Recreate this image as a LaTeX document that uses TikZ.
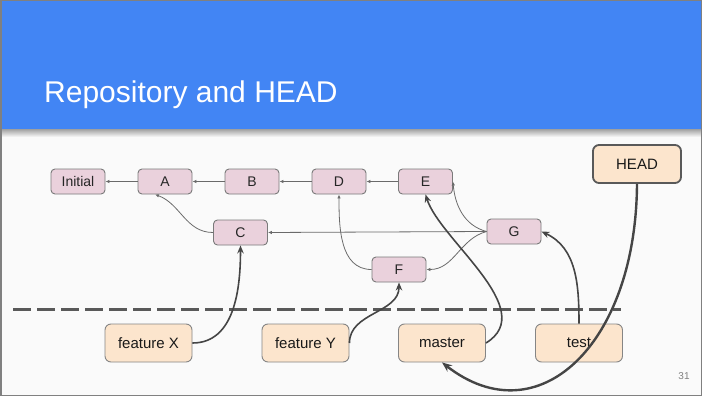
\documentclass[tikz,border=0pt]{standalone}
\usepackage{fontspec}
\setmainfont{Liberation Sans}
\usetikzlibrary{arrows.meta}
\definecolor{gblue}{HTML}{4285F4}
\definecolor{bgc}{HTML}{FAFAFA}
\definecolor{framec}{HTML}{808080}
\definecolor{commitfill}{HTML}{EAD1DC}
\definecolor{commitborder}{HTML}{7A7A7A}
\definecolor{branchfill}{HTML}{FCE5CD}
\definecolor{branchborder}{HTML}{858585}
\definecolor{headborder}{HTML}{595959}
\definecolor{carrowc}{HTML}{6A6A6A}
\definecolor{barrowc}{HTML}{454545}
\definecolor{dashc}{HTML}{595959}
\definecolor{numc}{HTML}{808080}
\tikzset{
  commit/.style={draw=commitborder, fill=commitfill, rounded corners=4pt,
    minimum width=54pt, minimum height=25pt, inner sep=0pt, line width=0.9pt,
    text=black!85, font=\fontsize{14}{16}\selectfont},
  branchbox/.style={draw=branchborder, fill=branchfill, rounded corners=6pt,
    minimum width=87pt, minimum height=38pt, inner sep=0pt, line width=0.9pt,
    text=black!90, font=\fontsize{15}{18}\selectfont},
  headbox/.style={branchbox, draw=headborder, line width=1.8pt, minimum width=88pt},
  carrow/.style={draw=carrowc, line width=0.8pt, -{Latex[length=4pt,width=3.5pt]}},
  barrow/.style={draw=barrowc, line width=1.6pt, -{Stealth[length=8pt,width=6.5pt]}},
  harrow/.style={draw=barrowc, line width=2.4pt, -{Stealth[length=10pt,width=8pt]}},
  dashline/.style={draw=dashc, line width=3pt, dash pattern=on 18pt off 6pt},
}
\begin{document}
\begin{tikzpicture}[x=1pt,y=-1pt]
\useasboundingbox (0,0) rectangle (702,396);
\fill[bgc] (0,0) rectangle (702,396);
\fill[gblue] (0,0) rectangle (702,129.5);
\shade[top color=black!35, bottom color=bgc] (0,129.5) rectangle (702,137);
\draw[framec, line width=1.5pt] (0.75,0.75) rectangle (701.25,395.25);

\node[anchor=base west, text=white, font=\fontsize{30}{36}\selectfont, inner sep=0pt] (title) at (44,102.7) {Repository and HEAD};
\node[text=numc, font=\fontsize{10}{12}\selectfont, inner sep=0pt] (pg) at (684,376) {31};

% dashed separator
\coordinate (dl) at (13,309);
\coordinate (dr) at (621,309);
\draw[dashline] (dl) -- (dr);

% commits
\node[commit] (Initial) at (78,181.5) {Initial};
\node[commit] (A) at (165,181.5) {A};
\node[commit] (B) at (252,181.5) {B};
\node[commit] (D) at (339,181.5) {D};
\node[commit] (E) at (425.5,181.5) {E};
\node[commit] (C) at (240.5,232.5) {C};
\node[commit] (G) at (514,231.5) {G};
\node[commit] (F) at (399,269.5) {F};

% branches
\node[headbox] (HEAD) at (637,164) {HEAD};
\node[branchbox] (fX) at (148.5,343) {feature X};
\node[branchbox] (fY) at (305.5,343) {feature Y};
\node[branchbox] (master) at (442,343) {master};
\node[branchbox] (test) at (579,343) {test};

% commit parent links
\draw[carrow] (A) -- (Initial);
\draw[carrow] (B) -- (A);
\draw[carrow] (D) -- (B);
\draw[carrow] (E) -- (D);
\draw[carrow] (G.west) -- (C.east);
\draw[carrow] (C.west) to[out=180,in=-20] ([xshift=-10pt]A.south);
\draw[carrow] (G.west) to[out=165,in=-85] (E.east);
\draw[carrow] (G.west) to[out=195,in=0] (F.east);
\draw[carrow] (F.west) to[out=180,in=-90] (D.south);

% branch pointers
\draw[barrow] (fX.east) to[out=0,in=-90] (C.south);
\draw[barrow] (fY.east) to[out=90,in=-90] (F.south);
\draw[barrow] (master.east) .. controls (540,310) and (440,240) .. (E.south);
\draw[barrow] (test.north) to[out=90,in=-25] (G.east);
\draw[harrow] (HEAD.south) .. controls (636,345) and (538,437) .. (master.south);
\end{tikzpicture}
\end{document}
